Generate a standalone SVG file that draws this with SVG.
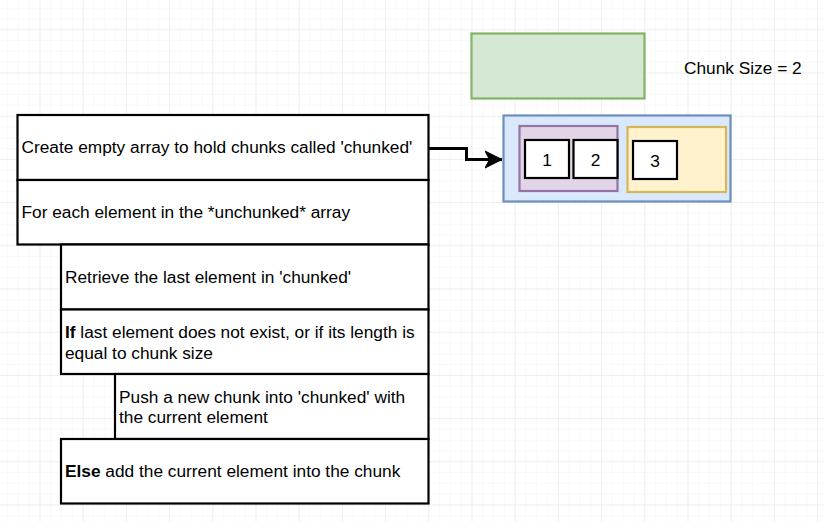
<svg xmlns="http://www.w3.org/2000/svg" width="824" height="522" viewBox="0 0 824 522">
<style>
.t{font-family:"Liberation Sans",Arial,Helvetica,sans-serif;font-size:17.3px;fill:#000}
.b{font-weight:bold}
.box{fill:#fff;stroke:#000;stroke-width:2.2}
.cell{fill:#fff;stroke:#000;stroke-width:2.2}
.conn{fill:none;stroke:#000;stroke-width:3}
</style>
<defs>
<pattern id="minor" patternUnits="userSpaceOnUse" x="39.5" y="29.3" width="10.8" height="10.8">
<path d="M0 0H10.8M0 0V10.8" fill="none" stroke="#f3f3f3" stroke-width="1"/>
</pattern>
<pattern id="major" patternUnits="userSpaceOnUse" x="39.5" y="29.3" width="43.2" height="43.2">
<path d="M0 0H43.2M0 0V43.2" fill="none" stroke="#e6e6e6" stroke-width="1"/>
</pattern>
<marker id="arr" markerUnits="userSpaceOnUse" markerWidth="22" markerHeight="22" refX="17" refY="10" orient="auto">
<path d="M0 1.5L17 10L0 18.5L4.5 10Z" fill="#000" stroke="#000" stroke-width="1"/>
</marker>
</defs>
<rect width="824" height="522" fill="#fff"/>
<rect width="824" height="522" fill="url(#minor)"/>
<rect width="824" height="522" fill="url(#major)"/>

<g id="chunkSizeLabel"><text class="t" x="684" y="73.5">Chunk Size = 2</text></g>
<g id="greenBox"><rect x="471.5" y="33.5" width="173" height="65" fill="#d5e8d4" stroke="#82b366" stroke-width="2.2"/></g>

<g id="step1"><rect class="box" x="17.5" y="115" width="411" height="65"/><text class="t" x="21.5" y="153">Create empty array to hold chunks called 'chunked'</text></g>
<g id="step2"><rect class="box" x="17.5" y="180" width="411" height="64.5"/><text class="t" x="21.5" y="218">For each element in the *unchunked* array</text></g>
<g id="step3"><rect class="box" x="61" y="244.5" width="367.5" height="65"/><text class="t" x="65" y="283">Retrieve the last element in 'chunked'</text></g>
<g id="step4"><rect class="box" x="61" y="309.5" width="367.5" height="64.5"/><text class="t" x="65" y="338"><tspan class="b">If</tspan> last element does not exist, or if its length is</text><text class="t" x="65" y="358.5">equal to chunk size</text></g>
<g id="step5"><rect class="box" x="115" y="374" width="313.5" height="65"/><text class="t" x="119" y="403">Push a new chunk into 'chunked' with</text><text class="t" x="119" y="423">the current element</text></g>
<g id="step6"><rect class="box" x="61" y="439" width="367.5" height="64.5"/><text class="t" x="65" y="477"><tspan class="b">Else</tspan> add the current element into the chunk</text></g>

<g id="chunkedArray">
<rect x="503.5" y="115.5" width="227" height="86" fill="#dae8fc" stroke="#6c8ebf" stroke-width="2.2"/>
</g>
<g id="chunkA">
<rect x="519.5" y="126" width="98" height="65" fill="#e1d5e7" stroke="#9673a6" stroke-width="2.2"/>
</g>
<g id="chunkB">
<rect x="627.5" y="127" width="98.5" height="65" fill="#fff2cc" stroke="#d6b656" stroke-width="2.2"/>
</g>
<g id="el1"><rect class="cell" x="525" y="140" width="44" height="38"/><text class="t" x="547" y="166" text-anchor="middle">1</text></g>
<g id="el2"><rect class="cell" x="573.5" y="140" width="44" height="38"/><text class="t" x="595.5" y="166" text-anchor="middle">2</text></g>
<g id="el3"><rect class="cell" x="633" y="141" width="44" height="38"/><text class="t" x="655" y="167" text-anchor="middle">3</text></g>

<g id="connectors">
<path class="conn" d="M428.5 148.5H466.5V159.5H502" marker-end="url(#arr)"/>
</g>
</svg>
